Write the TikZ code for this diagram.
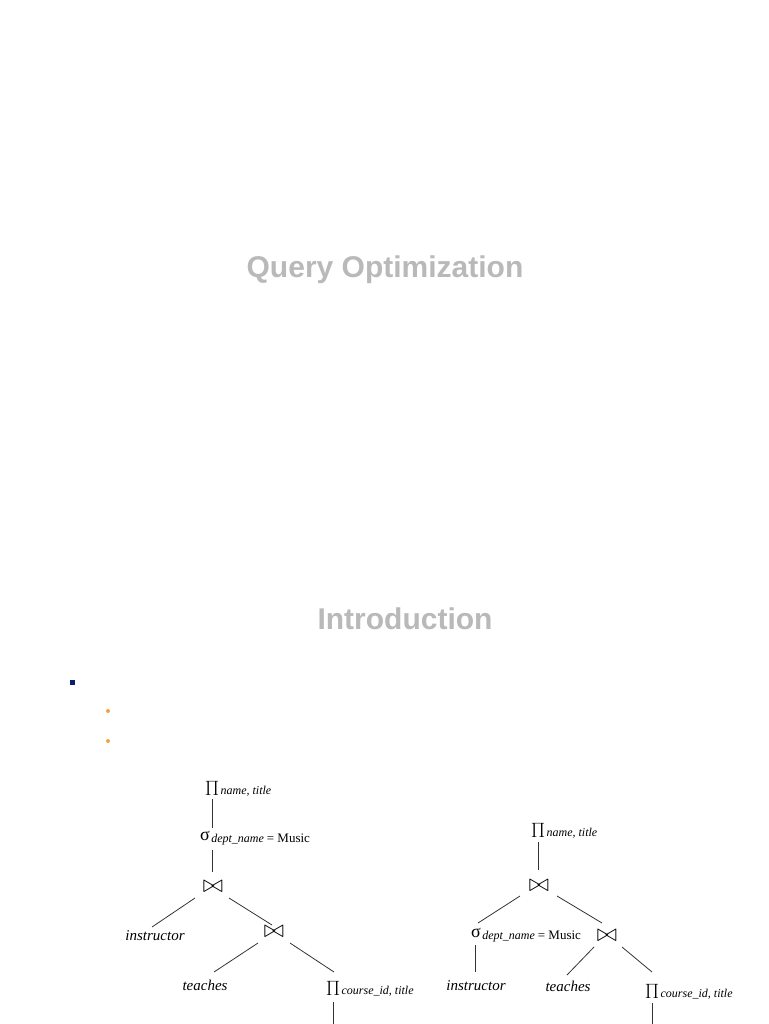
\documentclass[tikz,border=0pt]{standalone}
\usepackage{fontspec}
\usetikzlibrary{calc}
\setmainfont{Liberation Serif}
\newfontfamily\titlefont{Liberation Sans}
\begin{document}
\begin{tikzpicture}[x=1pt,y=-1pt,
  ttl/.style={font=\titlefont\bfseries\fontsize{30}{34}\selectfont,text=gray!55},
  op/.style={inner sep=1pt,font=\fontsize{22}{24}\selectfont},
  jn/.style={inner sep=2pt,font=\fontsize{24}{26}\selectfont},
  sub/.style={inner sep=0pt,anchor=west,font=\itshape\fontsize{12}{14}\selectfont},
  rel/.style={inner sep=1pt,font=\itshape\fontsize{15}{18}\selectfont},
  edge/.style={draw=black!80,line width=0.8pt}]
\useasboundingbox (0,0) rectangle (768,1024);
\node[ttl] (t1) at (385,270) {Query Optimization};
\node[ttl] (t2) at (405,619) {Introduction};
\node[fill={rgb,255:red,10;green,30;blue,110},minimum size=5pt,inner sep=0pt] (b1) at (72,682) {};
\node[circle,fill={rgb,255:red,245;green,160;blue,70},minimum size=4pt,inner sep=0pt] (b2) at (108,711) {};
\node[circle,fill={rgb,255:red,245;green,160;blue,70},minimum size=4pt,inner sep=0pt] (b3) at (108,741) {};
% tree 1
\node[op] (p1) at (212,788) {$\Pi$};
\node[sub,yshift=-3pt] at (p1.east) {name, title};
\node[op,font=\fontsize{18}{20}\selectfont] (s1) at (205,836) {σ};
\node[sub,yshift=-3pt] at (s1.east) {dept\_name \upshape\fontsize{13}{14}\selectfont = Music};
\node[jn] (j1) at (213,887) {$\bowtie$};
\node[rel] (i1) at (155,936) {instructor};
\node[jn] (j2) at (274,932) {$\bowtie$};
\node[rel] (te1) at (205,985) {teaches};
\node[op] (c1) at (333,988) {$\Pi$};
\node[sub,yshift=-3pt] at (c1.east) {course\_id, title};
\coordinate (e1) at (333,1024);
\draw[edge] ($(p1)+(0,11)$) -- ($(p1)+(0,40)$);
\draw[edge] ($(j1)+(-1,-37)$) -- ($(j1)+(-1,-15)$);
\draw[edge] ($(j1)+(-18,11)$) -- ($(i1)+(-3,-9)$);
\draw[edge] ($(j1)+(16,11)$) -- ($(j2)+(-2,-7)$);
\draw[edge] ($(j2)+(-16,11)$) -- ($(te1)+(9,-13)$);
\draw[edge] ($(j2)+(16,11)$) -- ($(c1)+(1,-16)$);
\draw[edge] ($(c1)+(0,14)$) -- (e1);
% tree 2
\node[op] (p2) at (538,830) {$\Pi$};
\node[sub,yshift=-3pt] at (p2.east) {name, title};
\node[jn] (j3) at (539,886) {$\bowtie$};
\node[op,font=\fontsize{18}{20}\selectfont] (s2) at (476,933) {σ};
\node[sub,yshift=-3pt] at (s2.east) {dept\_name \upshape\fontsize{13}{14}\selectfont = Music};
\node[rel] (i2) at (476,986) {instructor};
\node[jn] (j4) at (607,936) {$\bowtie$};
\node[rel] (te2) at (568,986) {teaches};
\node[op] (c2) at (652,991) {$\Pi$};
\node[sub,yshift=-3pt] at (c2.east) {course\_id, title};
\coordinate (e2) at (652,1024);
\draw[edge] ($(p2)+(0,12)$) -- ($(p2)+(0,40)$);
\draw[edge] ($(j3)+(-19,10)$) -- ($(s2)+(2,-10)$);
\draw[edge] ($(s2)+(-1,12)$) -- ($(i2)+(-1,-14)$);
\draw[edge] ($(j3)+(18,10)$) -- ($(j4)+(-5,-13)$);
\draw[edge] ($(j4)+(-13,11)$) -- ($(te2)+(-1,-11)$);
\draw[edge] ($(j4)+(15,11)$) -- ($(c2)+(0,-19)$);
\draw[edge] ($(c2)+(0,12)$) -- (e2);
\end{tikzpicture}
\end{document}
